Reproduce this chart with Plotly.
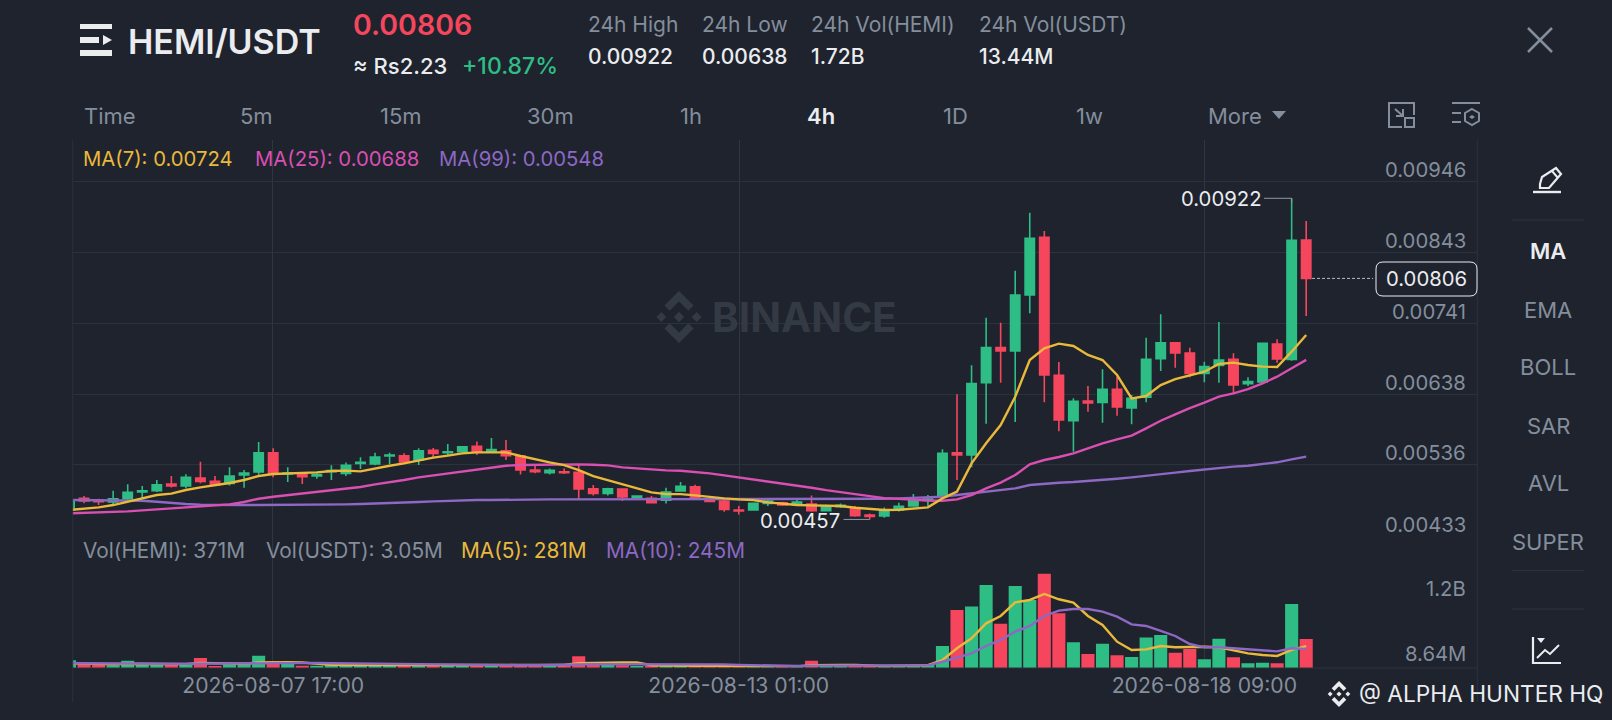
import plotly.graph_objects as go
from plotly.subplots import make_subplots

W, H = 1612, 720
FONT = "Inter"
BG = "#1e232d"
GRID = "#2c323c"
UP = "#2ebd85"
DOWN = "#f6465d"
GREY = "#848e9c"
WHITE = "#eaecef"
YEL = "#e9b93c"
PINK = "#d94fb2"
PUR = "#8d68c4"

opens = [.004706,.004875,.004851,.004822,.004870,.004967,.004986,.005083,.005054,.005169,
.005121,.005092,.005213,.005256,.005536,.005227,.005227,.005198,.005261,.005237,
.005382,.005372,.005488,.005493,.005430,.005570,.005536,.005551,.005628,.005551,
.005565,.005488,.005285,.005246,.005261,.005251,.005015,.004947,.005010,.004889,
.004875,.004850,.004981,.005044,.004860,.004836,.004706,.004706,.004802,.004812,
.004793,.004793,.004696,.004754,.004739,.004633,.004619,.004706,.004764,.004846,
.004899,.005536,.005503,.006550,.007057,.007009,.007820,.008655,.006656,.006000,
.006285,.006265,.006454,.006183,.006338,.006898,.007129,.006980,.006685,.006801,
.006888,.006536,.006560,.007110,.006888,.008616]
highs = [.004885,.004909,.004870,.004986,.005078,.005054,.005141,.005198,.005223,.005406,
.005198,.005324,.005285,.005691,.005599,.005324,.005237,.005247,.005353,.005396,
.005469,.005536,.005536,.005527,.005599,.005604,.005662,.005633,.005700,.005749,
.005719,.005502,.005348,.005309,.005309,.005357,.005068,.005029,.005019,.004918,
.004908,.005029,.005111,.005073,.004889,.004860,.004764,.004812,.004860,.004826,
.004870,.004918,.004783,.004802,.004764,.004657,.004744,.004812,.004937,.004923,
.005585,.006381,.006801,.007491,.007419,.008172,.009012,.008746,.006849,.006323,
.006502,.006743,.006637,.006372,.007202,.007540,.007129,.007057,.006854,.007429,
.006975,.006627,.007129,.007178,.009220,.008891]
lows = [.004682,.004803,.004778,.004778,.004851,.004875,.004967,.005034,.005020,.005092,
.005054,.005063,.005030,.005218,.005179,.005112,.005083,.005160,.005141,.005198,
.005300,.005353,.005372,.005382,.005358,.005469,.005503,.005536,.005503,.005536,
.005430,.005222,.005237,.005222,.005227,.004850,.004918,.004918,.004836,.004850,
.004802,.004802,.004981,.004860,.004822,.004682,.004643,.004696,.004764,.004764,
.004764,.004682,.004686,.004735,.004609,.004570,.004595,.004686,.004754,.004764,
.004875,.005141,.005324,.005956,.006550,.005981,.007554,.006265,.005845,.005551,
.006130,.005971,.006072,.005947,.006265,.006719,.006767,.006627,.006555,.006550,
.006396,.006502,.006560,.006840,.006869,.007516]
closes = [.004851,.004836,.004827,.004870,.004962,.004986,.005073,.005054,.005179,.005121,
.005073,.005198,.005242,.005536,.005232,.005242,.005189,.005218,.005276,.005353,
.005396,.005474,.005503,.005401,.005565,.005527,.005551,.005623,.005556,.005580,
.005493,.005285,.005261,.005280,.005246,.005010,.004947,.005015,.004894,.004908,
.004812,.004966,.005048,.004875,.004831,.004715,.004691,.004802,.004836,.004778,
.004822,.004696,.004764,.004773,.004624,.004614,.004701,.004759,.004850,.004865,
.005527,.005503,.006536,.007057,.007009,.007820,.008640,.006661,.006010,.006280,
.006256,.006454,.006198,.006323,.006888,.007129,.006980,.006685,.006782,.006878,
.006516,.006565,.007120,.006893,.008611,.008060]

ma7 = [.004706,.004725,.004745,.004778,.004827,.004865,.004923,.004943,.004996,.005034,
.005063,.005097,.005141,.005198,.005227,.005232,.005237,.005252,.005271,.005276,
.005266,.005309,.005348,.005382,.005425,.005464,.005493,.005527,.005541,.005546,
.005541,.005488,.005439,.005396,.005357,.005285,.005198,.005140,.005077,.005019,
.004962,.004937,.004937,.004918,.004894,.004875,.004860,.004850,.004817,.004793,
.004778,.004773,.004768,.004764,.004739,.004720,.004706,.004710,.004730,.004745,
.004875,.004972,.005382,.005672,.005937,.006347,.006878,.007047,.007115,.007081,
.006951,.006878,.006661,.006323,.006357,.006516,.006603,.006661,.006709,.006820,
.006840,.006806,.006782,.006777,.006999,.007240]
ma25 = [.004658,.004663,.004667,.004677,.004687,.004701,.004716,.004730,.004745,.004754,
.004769,.004788,.004822,.004870,.004899,.004923,.004943,.004962,.004986,.005015,
.005039,.005078,.005107,.005141,.005179,.005208,.005237,.005271,.005295,.005324,
.005348,.005357,.005362,.005362,.005367,.005367,.005362,.005352,.005323,.005309,
.005290,.005280,.005275,.005261,.005237,.005208,.005179,.005155,.005126,.005092,
.005058,.005029,.004995,.004971,.004937,.004908,.004879,.004868,.004855,.004845,
.004841,.004861,.004923,.005020,.005102,.005213,.005368,.005430,.005474,.005527,
.005599,.005672,.005729,.005783,.005889,.005999,.006092,.006183,.006261,.006347,
.006396,.006458,.006540,.006637,.006758,.006880]
ma99 = [.004851,.004851,.004851,.004851,.004851,.004841,.004827,.004807,.004793,.004783,
.004778,.004778,.004778,.004778,.004778,.004783,.004783,.004783,.004788,.004788,
.004793,.004798,.004803,.004807,.004822,.004832,.004841,.004846,.004851,.004851,
.004855,.004860,.004860,.004860,.004860,.004860,.004860,.004860,.004860,.004860,
.004860,.004860,.004860,.004860,.004862,.004865,.004865,.004865,.004865,.004865,
.004865,.004865,.004865,.004865,.004865,.004865,.004870,.004875,.004880,.004888,
.004899,.004923,.004947,.004972,.004996,.005020,.005068,.005088,.005102,.005112,
.005126,.005141,.005160,.005179,.005199,.005223,.005247,.005271,.005295,.005315,
.005334,.005348,.005368,.005397,.005440,.005480]

volumes = [98,51,43,34,94,43,43,51,56,128,21,56,51,158,85,56,30,30,43,38,
38,34,38,43,38,38,38,38,26,38,34,38,38,51,34,149,43,38,34,26,
26,26,26,26,21,21,21,21,21,21,21,94,34,26,26,21,26,34,34,43,
282,743,786,1063,568,1050,871,1208,700,329,179,312,162,141,389,423,196,243,111,376,
137,60,68,60,820,371]
vol_ma5 = [60,55,52,48,55,52,50,55,50,65,60,58,55,70,75,75,70,55,40,38,
38,36,36,37,39,38,38,37,35,34,33,36,36,38,38,60,65,68,70,70,
35,30,28,28,26,26,24,22,22,22,21,35,40,40,38,30,25,28,32,36,
102,252,380,572,666,841,871,948,880,837,666,551,337,231,239,282,265,273,273,265,
222,188,167,154,231,281]
vol_ma10 = [60,58,56,54,56,55,54,54,54,56,58,58,58,62,66,68,68,65,60,58,
55,52,48,45,42,40,38,38,37,36,36,36,36,37,37,45,50,50,52,52,
50,50,48,47,46,46,40,36,30,28,26,30,32,32,32,32,32,32,32,34,
80,132,188,282,359,465,538,666,734,756,756,722,658,559,538,474,410,307,265,265,
252,231,222,213,252,245]

price_ticks = [0.00946, 0.00843, 0.00741, 0.00638, 0.00536, 0.00433]
time_tick_idx = [14, 46, 78]
time_ticks = ["2026-08-07 17:00", "2026-08-13 01:00", "2026-08-18 09:00"]
tabs = ["Time", "5m", "15m", "30m", "1h", "4h", "1D", "1w", "More"]
side_items = ["MA", "EMA", "BOLL", "SAR", "AVL", "SUPER"]

idx = list(range(len(opens)))

fig = make_subplots(rows=2, cols=1, shared_xaxes=True)

fig.add_trace(go.Candlestick(
    x=idx, open=opens, high=highs, low=lows, close=closes,
    increasing=dict(line=dict(color=UP, width=1.6), fillcolor=UP),
    decreasing=dict(line=dict(color=DOWN, width=1.6), fillcolor=DOWN),
    whiskerwidth=0, showlegend=False), row=1, col=1)
for s, c in ((ma99, PUR), (ma25, PINK), (ma7, YEL)):
    fig.add_trace(go.Scatter(x=idx, y=s, mode="lines", line=dict(color=c, width=2.4),
                             showlegend=False), row=1, col=1)

bar_colors = [UP if c >= o else DOWN for o, c in zip(opens, closes)]
fig.add_trace(go.Bar(x=idx, y=[v * 1e6 for v in volumes], marker=dict(color=bar_colors, line_width=0),
                     showlegend=False), row=2, col=1)
for s, c in ((vol_ma5, YEL), (vol_ma10, PUR)):
    fig.add_trace(go.Scatter(x=idx, y=[v * 1e6 for v in s], mode="lines",
                             line=dict(color=c, width=2.4), showlegend=False), row=2, col=1)

def fx(px): return px / W
def fy(py): return 1 - py / H

ann, shp = [], []

def txt(x, y, s, size=20, color=GREY, anchor="left", weight=400):
    ann.append(dict(x=fx(x), y=fy(y), xref="paper", yref="paper", text=s, showarrow=False,
                    xanchor=anchor, yanchor="middle",
                    font=dict(family=FONT, size=size, color=color, weight=weight)))

def poly(points, fill=None, line=None, width=2, close=True, layer="above"):
    d = ""
    for k, (a, b) in enumerate(points):
        d += ("M" if k == 0 else "L") + f"{fx(a):.5f},{fy(b):.5f} "
    if close:
        d += "Z"
    shp.append(dict(type="path", path=d, xref="paper", yref="paper", layer=layer,
                    fillcolor=fill if fill else "rgba(0,0,0,0)",
                    line=dict(color=line if line else "rgba(0,0,0,0)", width=width if line else 0)))

def hline(x0, x1, y, color=GRID, width=1):
    shp.append(dict(type="line", xref="paper", yref="paper", x0=fx(x0), x1=fx(x1), y0=fy(y), y1=fy(y),
                    line=dict(color=color, width=width)))

def vline(x, y0, y1, color=GRID, width=1, layer="above"):
    shp.append(dict(type="line", xref="paper", yref="paper", x0=fx(x), x1=fx(x), y0=fy(y0), y1=fy(y1),
                    layer=layer, line=dict(color=color, width=width)))

def logo(cx, cy, R, color, layer="above"):
    def dia(dx, dy, r):
        poly([(cx+dx, cy+dy-r), (cx+dx+r, cy+dy), (cx+dx, cy+dy+r), (cx+dx-r, cy+dy)], fill=color, layer=layer)
    dia(0, 0, .2*R)
    dia(-.68*R, 0, .19*R)
    dia(.68*R, 0, .19*R)
    for sgn in (-1, 1):
        poly([(cx, cy+sgn*R), (cx+.56*R, cy+sgn*.44*R), (cx+.36*R, cy+sgn*.24*R), (cx, cy+sgn*.6*R),
              (cx-.36*R, cy+sgn*.24*R), (cx-.56*R, cy+sgn*.44*R)], fill=color, layer=layer)

# header
poly([(80, 24), (112, 24), (112, 29), (80, 29)], fill=WHITE)
poly([(80, 37), (99, 37), (99, 43), (80, 43)], fill=WHITE)
poly([(103, 35), (112, 40), (103, 45)], fill=WHITE)
poly([(80, 50), (112, 50), (112, 56), (80, 56)], fill=WHITE)
txt(126, 41, "HEMI/USDT", 34, WHITE, weight=600)
txt(351, 25, "0.00806", 28.5, DOWN, weight=600)
txt(351, 66, "≈ Rs2.23", 22, WHITE, weight=500)
txt(460, 66, "+10.87%", 23, UP, weight=500)
for x, a, b in ((586, "24h High", "0.00922"), (700, "24h Low", "0.00638"),
                (809, "24h Vol(HEMI)", "1.72B"), (977, "24h Vol(USDT)", "13.44M")):
    txt(x, 25, a, 21, GREY)
    txt(x, 57, b, 21, WHITE, weight=500)
poly([(1528, 28), (1552, 52)], line=GREY, width=2.5, close=False)
poly([(1552, 28), (1528, 52)], line=GREY, width=2.5, close=False)

# tabs
for x, s in zip((110, 256, 401, 550, 691, 821, 955, 1089, 1235), tabs):
    sel = s == "4h"
    txt(x, 116, s, 22, WHITE if sel else GREY, anchor="center", weight=600 if sel else 400)
poly([(1272, 111), (1286, 111), (1279, 119)], fill=GREY)
poly([(1402, 127), (1389, 127), (1389, 103), (1414, 103), (1414, 115)], line=GREY, width=2, close=False)
poly([(1405, 118), (1414, 118), (1414, 127), (1405, 127)], line=GREY, width=2)
poly([(1395, 109), (1403, 116)], line=GREY, width=2, close=False)
poly([(1396, 116), (1403, 116), (1403, 109)], line=GREY, width=2, close=False)
hline(1452, 1480, 103, GREY, 2)
hline(1452, 1461, 113, GREY, 2)
hline(1452, 1461, 122, GREY, 2)
poly([(1472, 109), (1479, 113), (1479, 121), (1472, 125), (1465, 121), (1465, 113)], line=GREY, width=2)
poly([(1472, 115), (1475, 117), (1472, 119), (1469, 117)], fill=GREY)

# frame
LEFT, RIGHT, TOP, MID, BOT = 72.7, 1477.3, 140, 536, 668
vline(LEFT, TOP, 702)
vline(RIGHT, TOP, 702)
hline(LEFT, RIGHT, BOT)
for x in (272.5, 739.5, 1204.5):
    vline(x, TOP, BOT, color="#303640", layer="below")

# legends
for x, s, c in ((81, "MA(7): 0.00724", YEL), (253, "MA(25): 0.00688", PINK), (437, "MA(99): 0.00548", PUR)):
    txt(x, 158, s, 20.3, c)
for x, s, c in ((81, "Vol(HEMI): 371M", GREY), (264, "Vol(USDT): 3.05M", GREY),
                (459, "MA(5): 281M", YEL), (604, "MA(10): 245M", PUR)):
    txt(x, 550, s, 20.8, c)

# price labels sit just above their gridlines
for v in price_ticks:
    ann.append(dict(x=fx(1468), y=v, xref="paper", yref="y", text=f"{v:.5f}", showarrow=False,
                    xanchor="right", yanchor="middle", yshift=12,
                    font=dict(family=FONT, size=20.3, color=GREY)))
ann.append(dict(x=fx(1468), y=1.2e9, xref="paper", yref="y2", text="1.2B", showarrow=False, xanchor="right",
                yanchor="middle", yshift=-14, font=dict(family=FONT, size=20.3, color=GREY)))
ann.append(dict(x=fx(1468), y=8.64e6, xref="paper", yref="y2", text="8.64M", showarrow=False, xanchor="right",
                yanchor="middle", yshift=14, font=dict(family=FONT, size=20.3, color=GREY)))

# extreme markers
ann.append(dict(x=82.1, y=0.00922, xref="x", yref="y", text="0.00922", showarrow=False, xanchor="right",
                yanchor="middle", font=dict(family=FONT, size=20.3, color=WHITE)))
shp.append(dict(type="path", xref="x", yref="y", path="M 82.1,0.00922 L 84,0.00922 L 84,0.00915",
                line=dict(color="#8f98a3", width=1)))
ann.append(dict(x=53.1, y=0.00457, xref="x", yref="y", text="0.00457", showarrow=False, xanchor="right",
                yanchor="middle", yshift=-1, font=dict(family=FONT, size=20.3, color=WHITE)))
shp.append(dict(type="line", xref="x", yref="y", x0=53.2, x1=55, y0=0.00457, y1=0.00457,
                line=dict(color="#8f98a3", width=1)))

# last price
shp.append(dict(type="line", xref="x", yref="y", x0=85.4, x1=89.6, y0=0.00806, y1=0.00806,
                line=dict(color="#b7bdc6", width=1, dash="3px,2px")))
x0, x1, y0, y1, r = 1376, 1477, 262, 296, 7
shp.append(dict(type="path", xref="paper", yref="paper", fillcolor=BG, line=dict(color=WHITE, width=1),
                path=(f"M{fx(x0+r)},{fy(y0)} L{fx(x1-r)},{fy(y0)} Q{fx(x1)},{fy(y0)} {fx(x1)},{fy(y0+r)} "
                      f"L{fx(x1)},{fy(y1-r)} Q{fx(x1)},{fy(y1)} {fx(x1-r)},{fy(y1)} L{fx(x0+r)},{fy(y1)} "
                      f"Q{fx(x0)},{fy(y1)} {fx(x0)},{fy(y1-r)} L{fx(x0)},{fy(y0+r)} Q{fx(x0)},{fy(y0)} {fx(x0+r)},{fy(y0)} Z")))
txt(1426.5, 279, "0.00806", 20.3, WHITE, anchor="center")

# watermark
logo(679, 317, 26, "#343a44", layer="below")
txt(710, 317, "BINANCE", 40.5, "#343a44", weight=700)

# side panel
for y, s in zip((251, 310, 367, 426, 483, 542), side_items):
    sel = s == "MA"
    txt(1548, y, s, 22, WHITE if sel else GREY, anchor="center", weight=600 if sel else 400)
hline(1512, 1584, 220, GRID, 1)
hline(1512, 1584, 570.5, GRID, 1)
hline(1512, 1584, 609, GRID, 1)
# pencil
poly([(1540, 184), (1542, 177), (1556, 168), (1561, 174), (1549, 188), (1540, 188)], line=WHITE, width=2.2)
poly([(1552, 171), (1558, 178)], line=WHITE, width=2, close=False)
hline(1533, 1561, 192, WHITE, 2.4)
# chart icon
poly([(1533, 637), (1533, 663), (1561, 663)], line=WHITE, width=2.2, close=False)
poly([(1537, 658), (1545, 650), (1550, 654), (1559, 645)], line=WHITE, width=2, close=False)
poly([(1537, 638), (1545, 638), (1541, 643)], fill=WHITE)

# signature
logo(1339, 694, 13, WHITE)
txt(1357, 693, "@ ALPHA HUNTER HQ", 22.7, WHITE)

fig.update_layout(
    width=W, height=H, margin=dict(l=0, r=0, t=0, b=0), autosize=False,
    paper_bgcolor=BG, plot_bgcolor=BG, showlegend=False, hovermode=False,
    boxgap=0.08, bargap=0.1, annotations=ann, shapes=shp,
    xaxis=dict(domain=[fx(LEFT), fx(RIGHT)], range=[0.22, 96.76], rangeslider=dict(visible=False),
               tickvals=time_tick_idx, showticklabels=False, showgrid=False,
               zeroline=False, showline=False, ticks=""),
    xaxis2=dict(domain=[fx(LEFT), fx(RIGHT)], range=[0.22, 96.76], matches="x",
                tickvals=time_tick_idx, ticktext=time_ticks, showticklabels=True, showgrid=False,
                zeroline=False, showline=False, ticks="",
                tickfont=dict(family=FONT, size=21.2, color=GREY), ticklabelstandoff=3),
    yaxis=dict(domain=[fy(MID), fy(TOP)], range=[0.00433, 0.010064], tickvals=price_ticks,
               showticklabels=False, showgrid=True, gridcolor=GRID, gridwidth=1, zeroline=False, ticks=""),
    yaxis2=dict(domain=[fy(BOT), fy(MID)], range=[0, 1.69e9], showticklabels=False, showgrid=False,
                zeroline=False, ticks=""),
)

fig.write_html("out.html", config=dict(displayModeBar=False),
               post_script="document.body.style.margin='0';document.body.style.overflow='hidden';document.body.style.background='%s';" % BG)
